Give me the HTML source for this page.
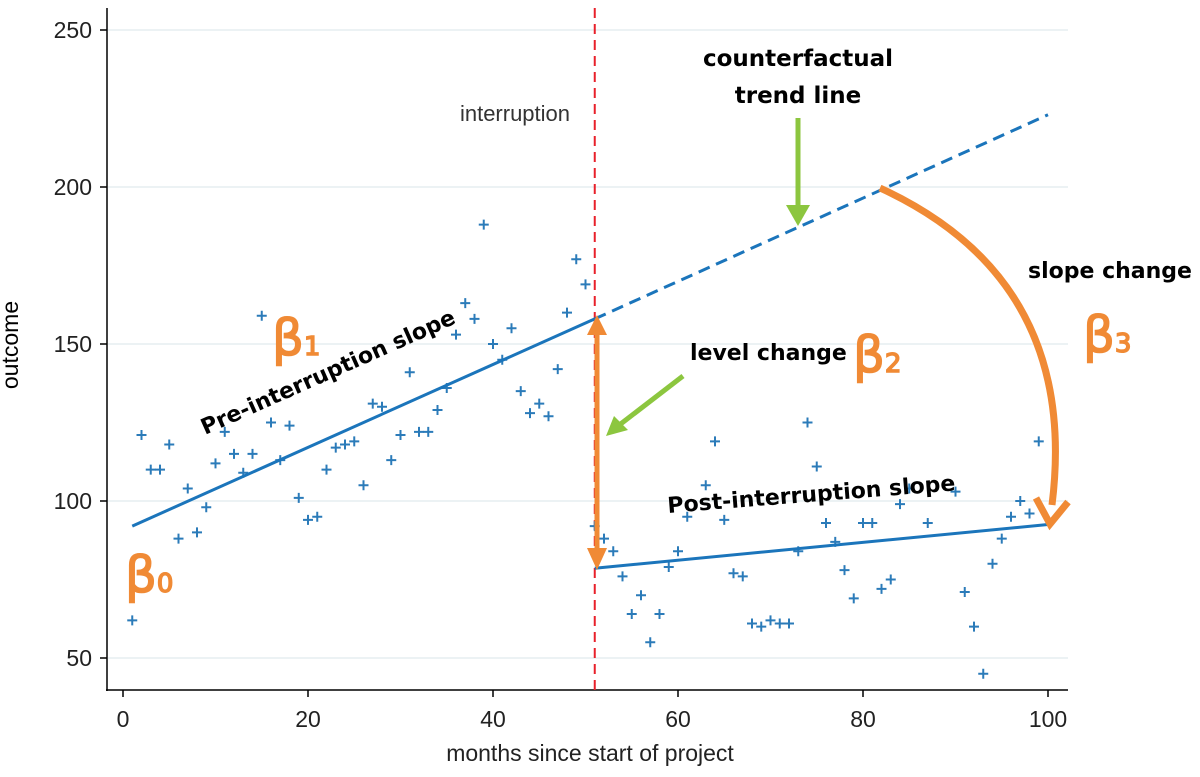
<!DOCTYPE html>
<html><head><meta charset="utf-8"><style>
body{margin:0;background:#fff;width:1200px;height:772px;overflow:hidden}
text{font-family:"Liberation Sans",sans-serif}
.lbl{font-family:"DejaVu Sans","Liberation Sans",sans-serif}
.beta{font-family:"DejaVu Sans",sans-serif;fill:#f08a35;stroke:#f08a35;stroke-width:1.5}
</style></head><body>
<svg id="chart" width="1200" height="772" xmlns="http://www.w3.org/2000/svg">
<g id="grid"></g><g id="axes"></g><g id="marks"></g>
</svg>
<script>
const xTicks=[0,20,40,60,80,100];
const yTicks=[50,100,150,200,250];
const months=[1,2,3,4,5,6,7,8,9,10,11,12,13,14,15,16,17,18,19,20,21,22,23,24,25,26,27,28,29,30,31,32,33,34,35,36,37,38,39,40,41,42,43,44,45,46,47,48,49,50,51,52,53,54,55,56,57,58,59,60,61,63,64,65,66,67,68,69,70,71,72,73,74,75,76,77,78,79,80,81,82,83,84,85,87,90,91,92,93,94,95,96,97,98,99];
const outcome=[62,121,110,110,118,88,104,90,98,112,122,115,109,115,159,125,113,124,101,94,95,110,117,118,119,105,131,130,113,121,141,122,122,129,136,153,163,158,188,150,145,155,135,128,131,127,142,160,177,169,92,88,84,76,64,70,55,64,79,84,95,105,119,94,77,76,61,60,62,61,61,84,125,111,93,87,78,69,93,93,72,75,99,104,93,103,71,60,45,80,88,95,100,96,119];
const preFit=[[1,92],[51,158]];
const postFit=[[51,78.6],[100,92.5]];
const cfFit=[[51,158],[100,223]];
const interruption=51;
const X=v=>123+v*9.25, Y=v=>30+(250-v)*3.14;
const NS='http://www.w3.org/2000/svg';
function mk(p,tag,at){const e=document.createElementNS(NS,tag);for(const k in at)e.setAttribute(k,at[k]);document.getElementById(p).appendChild(e);return e;}
yTicks.forEach(t=>{
 const g=mk('grid','line',{x1:108,x2:1068,y1:Y(t),y2:Y(t),stroke:'#e6eef0','stroke-width':1.5});
 
 
 const tk=mk('axes','line',{x1:100,x2:107,y1:Y(t),y2:Y(t),stroke:'#000','stroke-width':1.5});
 
 
 const tx=mk('axes','text',{x:92,y:Y(t)+8,'text-anchor':'end','font-size':23,fill:'#222'});tx.textContent=t;
 
 
});
xTicks.forEach(t=>{
 const tk=mk('axes','line',{x1:X(t),x2:X(t),y1:690,y2:697,stroke:'#000','stroke-width':1.5});
 
 
 const tx=mk('axes','text',{x:X(t),y:727,'text-anchor':'middle','font-size':23,fill:'#222'});tx.textContent=t;
 
 
});
let a=mk('axes','line',{x1:107,x2:107,y1:8,y2:691,stroke:'#000','stroke-width':1.5});

a=mk('axes','line',{x1:106,x2:1068,y1:690,y2:690,stroke:'#000','stroke-width':1.5});

a=mk('axes','text',{x:590,y:761,'text-anchor':'middle','font-size':23,fill:'#222'});a.textContent='months since start of project';

a=mk('axes','text',{x:0,y:0,'text-anchor':'middle','font-size':23,fill:'#000',transform:'translate(18,345) rotate(-90)'});a.textContent='outcome';

a=mk('marks','line',{x1:X(interruption),x2:X(interruption),y1:8,y2:690,stroke:'#e8202a','stroke-width':2,'stroke-dasharray':'10,6'});

months.forEach((m,i)=>{
 const p=mk('marks','path',{d:`M${X(m)-5},${Y(outcome[i])}h10M${X(m)},${Y(outcome[i])-5}v10`,stroke:'#2b7bb9','stroke-width':2});
 
 
});
function ln(f,name,dash){const l=mk('marks','line',{x1:X(f[0][0]),y1:Y(f[0][1]),x2:X(f[1][0]),y2:Y(f[1][1]),stroke:'#1b75bb','stroke-width':3,'stroke-dasharray':dash||'none'});}
ln(preFit,'pre-interruption-fit');ln(postFit,'post-interruption-fit');ln(cfFit,'counterfactual-trend','12,7');
</script>
<svg style="position:absolute;left:0;top:0" width="1200" height="772">
<text x="515" y="121" text-anchor="middle" font-size="22" fill="#333" font-family="Liberation Sans,sans-serif">interruption</text>
<text class="lbl" x="798" y="66" text-anchor="middle" font-size="23" font-weight="bold" fill="#000">counterfactual</text>
<text class="lbl" x="798" y="103" text-anchor="middle" font-size="23" font-weight="bold" fill="#000">trend line</text>
<line x1="798" y1="118" x2="798" y2="210" stroke="#8cc63f" stroke-width="5"/>
<path d="M786,205 L798,226 L810,205 Z" fill="#8cc63f"/>
<line x1="683" y1="376" x2="618" y2="426" stroke="#8cc63f" stroke-width="5"/>
<path d="M606,436 L614,416 L628,430 Z" fill="#8cc63f"/>
<text class="lbl" x="690" y="360" font-size="22" font-weight="bold" fill="#000">level change</text>
<text class="beta" x="853" y="372" font-size="50">β<tspan font-size="26">2</tspan></text>
<text class="lbl" x="1028" y="278" font-size="22" font-weight="bold" fill="#000">slope change</text>
<text class="beta" x="1083" y="352" font-size="50">β<tspan font-size="26">3</tspan></text>
<text class="beta" x="272" y="355" font-size="50">β<tspan font-size="26">1</tspan></text>
<text class="beta" x="125" y="592" font-size="50">β<tspan font-size="26">0</tspan></text>
<text class="lbl" x="0" y="0" font-size="22" font-weight="bold" fill="#000" transform="translate(205,435) rotate(-24)">Pre-interruption slope</text>
<text class="lbl" x="0" y="0" font-size="22" font-weight="bold" fill="#000" transform="translate(668,513) rotate(-4.5)">Post-interruption slope</text>
<line x1="597" y1="330" x2="597" y2="555" stroke="#f08a35" stroke-width="5"/>
<path d="M587,335 L597,315 L607,335 Z" fill="#f08a35"/>
<path d="M587,548 L597,570 L607,548 Z" fill="#f08a35"/>
<path d="M880,188 Q1080,280 1052,505" fill="none" stroke="#f08a35" stroke-width="7"/>
<path d="M1036,498 L1050,524 L1068,502" fill="none" stroke="#f08a35" stroke-width="7"/>
</svg>
</body></html>
